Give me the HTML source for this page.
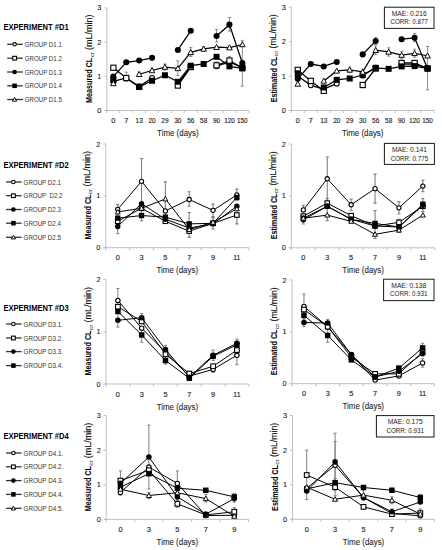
<!DOCTYPE html><html><head><meta charset="utf-8"><style>html,body{margin:0;padding:0;background:#fff;width:442px;height:550px;overflow:hidden}svg{display:block}text{font-family:"Liberation Sans",sans-serif}</style></head><body>
<svg width="442" height="550" viewBox="0 0 442 550">
<rect width="442" height="550" fill="#fff"/>
<text x="3.4" y="29.9" font-size="8.6" font-weight="bold" fill="#000" textLength="65.3" lengthAdjust="spacingAndGlyphs">EXPERIMENT #D1</text>
<path d="M7.2 44.3H22.8" stroke="#333" stroke-width="1.3"/>
<circle cx="14.6" cy="44.3" r="1.72" fill="#fff" stroke="#000" stroke-width="1.1"/>
<text x="24.8" y="46.8" font-size="7.3" fill="#333" textLength="37" lengthAdjust="spacingAndGlyphs" xml:space="preserve">GROUP D1.1</text>
<path d="M7.2 58.2H22.8" stroke="#333" stroke-width="1.3"/>
<rect x="12.73" y="56.33" width="3.74" height="3.74" fill="#fff" stroke="#000" stroke-width="1.1"/>
<text x="24.8" y="60.7" font-size="7.3" fill="#333" textLength="37" lengthAdjust="spacingAndGlyphs" xml:space="preserve">GROUP D1.2</text>
<path d="M7.2 72H22.8" stroke="#333" stroke-width="1.3"/>
<circle cx="14.6" cy="72" r="2.32" fill="#000"/>
<text x="24.8" y="74.5" font-size="7.3" fill="#333" textLength="37" lengthAdjust="spacingAndGlyphs" xml:space="preserve">GROUP D1.3</text>
<path d="M7.2 85.8H22.8" stroke="#333" stroke-width="1.3"/>
<rect x="12.33" y="83.53" width="4.54" height="4.54" fill="#000"/>
<text x="24.8" y="88.3" font-size="7.3" fill="#333" textLength="37" lengthAdjust="spacingAndGlyphs" xml:space="preserve">GROUP D1.4</text>
<path d="M7.2 99.5H22.8" stroke="#333" stroke-width="1.3"/>
<path d="M14.6 97.43L16.67 101.16L12.53 101.16Z" fill="#fff" stroke="#000" stroke-width="0.95"/>
<text x="24.8" y="102" font-size="7.3" fill="#333" textLength="37" lengthAdjust="spacingAndGlyphs" xml:space="preserve">GROUP D1.5</text>
<g stroke="#bfbfbf" stroke-width="1" fill="none">
<path d="M106.9 7.9V110.5"/>
<path d="M104.4 110.5H248.8"/>
<path d="M104.4 110.5H106.9"/>
<path d="M104.4 76.3H106.9"/>
<path d="M104.4 42.1H106.9"/>
<path d="M104.4 7.9H106.9"/>
<path d="M106.9 110.5V113"/>
<path d="M119.8 110.5V113"/>
<path d="M132.7 110.5V113"/>
<path d="M145.6 110.5V113"/>
<path d="M158.5 110.5V113"/>
<path d="M171.4 110.5V113"/>
<path d="M184.3 110.5V113"/>
<path d="M197.2 110.5V113"/>
<path d="M210.1 110.5V113"/>
<path d="M223 110.5V113"/>
<path d="M235.9 110.5V113"/>
<path d="M248.8 110.5V113"/>
</g>
<g font-size="7.3" fill="#262626" stroke="#262626" stroke-width="0.12" text-anchor="end">
<text x="101.4" y="113">0</text>
<text x="101.4" y="78.8">1</text>
<text x="101.4" y="44.6">2</text>
<text x="101.4" y="10.4">3</text>
</g>
<g font-size="7.3" fill="#262626" stroke="#262626" stroke-width="0.15" text-anchor="middle">
<text x="113.35" y="123">0</text>
<text x="126.25" y="123">7</text>
<text x="139.15" y="123" textLength="7.2" lengthAdjust="spacingAndGlyphs">13</text>
<text x="152.05" y="123" textLength="7.2" lengthAdjust="spacingAndGlyphs">20</text>
<text x="164.95" y="123" textLength="7.2" lengthAdjust="spacingAndGlyphs">29</text>
<text x="177.85" y="123" textLength="7.2" lengthAdjust="spacingAndGlyphs">30</text>
<text x="190.75" y="123" textLength="7.2" lengthAdjust="spacingAndGlyphs">56</text>
<text x="203.65" y="123" textLength="7.2" lengthAdjust="spacingAndGlyphs">58</text>
<text x="216.55" y="123" textLength="7.2" lengthAdjust="spacingAndGlyphs">90</text>
<text x="229.45" y="123" textLength="10.65" lengthAdjust="spacingAndGlyphs">120</text>
<text x="242.35" y="123" textLength="10.65" lengthAdjust="spacingAndGlyphs">150</text>
</g>
<text x="177.85" y="136" font-size="8.6" fill="#222" stroke="#222" stroke-width="0.08" text-anchor="middle" textLength="41.5" lengthAdjust="spacingAndGlyphs">Time (days)</text>
<text transform="translate(92.1 102.9) rotate(-90)" font-size="9.1" font-weight="bold" fill="#000" textLength="45" lengthAdjust="spacingAndGlyphs">Measured CL</text>
<text transform="translate(93.5 57.6) rotate(-90)" font-size="5.6" fill="#111" textLength="5.6" lengthAdjust="spacingAndGlyphs">cr</text>
<text transform="translate(91.5 49.9) rotate(-90)" font-size="8.8" fill="#111" stroke="#111" stroke-width="0.15" textLength="35.5" lengthAdjust="spacingAndGlyphs">(mL/min)</text>
<g stroke="#808080" stroke-width="0.9" fill="none">
<path d="M126.25 72.2V81.43M124.65 72.2H127.85M124.65 81.43H127.85"/>
<path d="M164.95 63.99V70.14M163.35 63.99H166.55M163.35 70.14H166.55"/>
<path d="M177.85 60.91V75.62M176.25 60.91H179.45M176.25 75.62H179.45"/>
<path d="M190.75 47.57V56.46M189.15 47.57H192.35M189.15 56.46H192.35"/>
<path d="M216.55 29.45V42.1M214.95 29.45H218.15M214.95 42.1H218.15"/>
<path d="M229.45 17.48V31.16M227.85 17.48H231.05M227.85 31.16H231.05"/>
<path d="M242.35 40.39V86.22M240.75 40.39H243.95M240.75 86.22H243.95"/>
<path d="M229.45 56.46V64.33M227.85 56.46H231.05M227.85 64.33H231.05"/>
<path d="M216.55 61.94V68.78M214.95 61.94H218.15M214.95 68.78H218.15"/>
<path d="M139.15 72.2V76.3M137.55 72.2H140.75M137.55 76.3H140.75"/>
<path d="M152.05 68.09V72.2M150.45 68.09H153.65M150.45 72.2H153.65"/>
<path d="M203.65 46.89V50.99M202.05 46.89H205.25M202.05 50.99H205.25"/>
</g>
<path d="M113.35 81.43L126.25 78.01L139.15 86.56L152.05 78.01" fill="none" stroke="#000000" stroke-width="1.25"/>
<path d="M177.85 83.82L190.75 66.72" fill="none" stroke="#000000" stroke-width="1.25"/>
<path d="M216.55 66.04L229.45 61.94L242.35 67.75" fill="none" stroke="#000000" stroke-width="1.25"/>
<circle cx="113.35" cy="81.43" r="2.45" fill="#fff" stroke="#000" stroke-width="1.1"/>
<circle cx="126.25" cy="78.01" r="2.45" fill="#fff" stroke="#000" stroke-width="1.1"/>
<circle cx="139.15" cy="86.56" r="2.45" fill="#fff" stroke="#000" stroke-width="1.1"/>
<circle cx="152.05" cy="78.01" r="2.45" fill="#fff" stroke="#000" stroke-width="1.1"/>
<circle cx="177.85" cy="83.82" r="2.45" fill="#fff" stroke="#000" stroke-width="1.1"/>
<circle cx="190.75" cy="66.72" r="2.45" fill="#fff" stroke="#000" stroke-width="1.1"/>
<circle cx="216.55" cy="66.04" r="2.45" fill="#fff" stroke="#000" stroke-width="1.1"/>
<circle cx="229.45" cy="61.94" r="2.45" fill="#fff" stroke="#000" stroke-width="1.1"/>
<circle cx="242.35" cy="67.75" r="2.45" fill="#fff" stroke="#000" stroke-width="1.1"/>
<path d="M113.35 67.75L126.25 78.01L139.15 86.9" fill="none" stroke="#000000" stroke-width="1.25"/>
<path d="M177.85 85.53L190.75 67.07" fill="none" stroke="#000000" stroke-width="1.25"/>
<path d="M216.55 65.36L229.45 60.57L242.35 67.75" fill="none" stroke="#000000" stroke-width="1.25"/>
<rect x="110.75" y="65.15" width="5.2" height="5.2" fill="#fff" stroke="#000" stroke-width="1.1"/>
<rect x="123.65" y="75.41" width="5.2" height="5.2" fill="#fff" stroke="#000" stroke-width="1.1"/>
<rect x="136.55" y="84.3" width="5.2" height="5.2" fill="#fff" stroke="#000" stroke-width="1.1"/>
<rect x="175.25" y="82.93" width="5.2" height="5.2" fill="#fff" stroke="#000" stroke-width="1.1"/>
<rect x="188.15" y="64.47" width="5.2" height="5.2" fill="#fff" stroke="#000" stroke-width="1.1"/>
<rect x="213.95" y="62.76" width="5.2" height="5.2" fill="#fff" stroke="#000" stroke-width="1.1"/>
<rect x="226.85" y="57.97" width="5.2" height="5.2" fill="#fff" stroke="#000" stroke-width="1.1"/>
<rect x="239.75" y="65.15" width="5.2" height="5.2" fill="#fff" stroke="#000" stroke-width="1.1"/>
<path d="M113.35 76.64L126.25 62.28L139.15 60.57L152.05 57.83" fill="none" stroke="#000000" stroke-width="1.25"/>
<path d="M177.85 49.97L190.75 30.81" fill="none" stroke="#000000" stroke-width="1.25"/>
<path d="M216.55 35.94L229.45 24.66L242.35 62.96" fill="none" stroke="#000000" stroke-width="1.25"/>
<circle cx="113.35" cy="76.64" r="3.05" fill="#000"/>
<circle cx="126.25" cy="62.28" r="3.05" fill="#000"/>
<circle cx="139.15" cy="60.57" r="3.05" fill="#000"/>
<circle cx="152.05" cy="57.83" r="3.05" fill="#000"/>
<circle cx="177.85" cy="49.97" r="3.05" fill="#000"/>
<circle cx="190.75" cy="30.81" r="3.05" fill="#000"/>
<circle cx="216.55" cy="35.94" r="3.05" fill="#000"/>
<circle cx="229.45" cy="24.66" r="3.05" fill="#000"/>
<circle cx="242.35" cy="62.96" r="3.05" fill="#000"/>
<path d="M139.15 86.9L152.05 80.75L164.95 75.27L177.85 81.77L190.75 65.7L203.65 63.99L216.55 56.81L229.45 66.38L242.35 68.43" fill="none" stroke="#000000" stroke-width="1.25"/>
<rect x="110.35" y="77.06" width="6" height="6" fill="#000"/>
<rect x="136.15" y="83.9" width="6" height="6" fill="#000"/>
<rect x="149.05" y="77.75" width="6" height="6" fill="#000"/>
<rect x="161.95" y="72.27" width="6" height="6" fill="#000"/>
<rect x="174.85" y="78.77" width="6" height="6" fill="#000"/>
<rect x="187.75" y="62.7" width="6" height="6" fill="#000"/>
<rect x="200.65" y="60.99" width="6" height="6" fill="#000"/>
<rect x="213.55" y="53.81" width="6" height="6" fill="#000"/>
<rect x="226.45" y="63.38" width="6" height="6" fill="#000"/>
<rect x="239.35" y="65.43" width="6" height="6" fill="#000"/>
<path d="M139.15 74.25L152.05 70.49L164.95 67.07L177.85 68.43L190.75 52.36L203.65 48.94L216.55 47.23L229.45 47.57L242.35 44.49" fill="none" stroke="#000000" stroke-width="1.25"/>
<path d="M113.35 80.68L116.15 85.72L110.55 85.72Z" fill="#fff" stroke="#000" stroke-width="0.95"/>
<path d="M139.15 71.45L141.95 76.49L136.35 76.49Z" fill="#fff" stroke="#000" stroke-width="0.95"/>
<path d="M152.05 67.69L154.85 72.73L149.25 72.73Z" fill="#fff" stroke="#000" stroke-width="0.95"/>
<path d="M164.95 64.27L167.75 69.31L162.15 69.31Z" fill="#fff" stroke="#000" stroke-width="0.95"/>
<path d="M177.85 65.63L180.65 70.67L175.05 70.67Z" fill="#fff" stroke="#000" stroke-width="0.95"/>
<path d="M190.75 49.56L193.55 54.6L187.95 54.6Z" fill="#fff" stroke="#000" stroke-width="0.95"/>
<path d="M203.65 46.14L206.45 51.18L200.85 51.18Z" fill="#fff" stroke="#000" stroke-width="0.95"/>
<path d="M216.55 44.43L219.35 49.47L213.75 49.47Z" fill="#fff" stroke="#000" stroke-width="0.95"/>
<path d="M229.45 44.77L232.25 49.81L226.65 49.81Z" fill="#fff" stroke="#000" stroke-width="0.95"/>
<path d="M242.35 41.69L245.15 46.73L239.55 46.73Z" fill="#fff" stroke="#000" stroke-width="0.95"/>
<g stroke="#bfbfbf" stroke-width="1" fill="none">
<path d="M291.3 7.21V110.5"/>
<path d="M288.8 110.5H434.08"/>
<path d="M288.8 110.5H291.3"/>
<path d="M288.8 76.07H291.3"/>
<path d="M288.8 41.64H291.3"/>
<path d="M288.8 7.21H291.3"/>
<path d="M291.3 110.5V113"/>
<path d="M304.28 110.5V113"/>
<path d="M317.26 110.5V113"/>
<path d="M330.24 110.5V113"/>
<path d="M343.22 110.5V113"/>
<path d="M356.2 110.5V113"/>
<path d="M369.18 110.5V113"/>
<path d="M382.16 110.5V113"/>
<path d="M395.14 110.5V113"/>
<path d="M408.12 110.5V113"/>
<path d="M421.1 110.5V113"/>
<path d="M434.08 110.5V113"/>
</g>
<g font-size="7.3" fill="#262626" stroke="#262626" stroke-width="0.12" text-anchor="end">
<text x="285.8" y="113">0</text>
<text x="285.8" y="78.57">1</text>
<text x="285.8" y="44.14">2</text>
<text x="285.8" y="9.71">3</text>
</g>
<g font-size="7.3" fill="#262626" stroke="#262626" stroke-width="0.15" text-anchor="middle">
<text x="297.79" y="123">0</text>
<text x="310.77" y="123">7</text>
<text x="323.75" y="123" textLength="7.2" lengthAdjust="spacingAndGlyphs">13</text>
<text x="336.73" y="123" textLength="7.2" lengthAdjust="spacingAndGlyphs">20</text>
<text x="349.71" y="123" textLength="7.2" lengthAdjust="spacingAndGlyphs">29</text>
<text x="362.69" y="123" textLength="7.2" lengthAdjust="spacingAndGlyphs">30</text>
<text x="375.67" y="123" textLength="7.2" lengthAdjust="spacingAndGlyphs">56</text>
<text x="388.65" y="123" textLength="7.2" lengthAdjust="spacingAndGlyphs">58</text>
<text x="401.63" y="123" textLength="7.2" lengthAdjust="spacingAndGlyphs">90</text>
<text x="414.61" y="123" textLength="10.65" lengthAdjust="spacingAndGlyphs">120</text>
<text x="427.59" y="123" textLength="10.65" lengthAdjust="spacingAndGlyphs">150</text>
</g>
<text x="362.69" y="136" font-size="8.6" fill="#222" stroke="#222" stroke-width="0.08" text-anchor="middle" textLength="41.5" lengthAdjust="spacingAndGlyphs">Time (days)</text>
<text transform="translate(276.5 102.31) rotate(-90)" font-size="9.1" font-weight="bold" fill="#000" textLength="45.8" lengthAdjust="spacingAndGlyphs">Estimated CL</text>
<text transform="translate(277.9 56.21) rotate(-90)" font-size="5.6" fill="#111" textLength="5.6" lengthAdjust="spacingAndGlyphs">cr</text>
<text transform="translate(275.9 48.51) rotate(-90)" font-size="8.8" fill="#111" stroke="#111" stroke-width="0.15" textLength="34.2" lengthAdjust="spacingAndGlyphs">(mL/min)</text>
<g stroke="#808080" stroke-width="0.9" fill="none">
<path d="M297.79 68.5V77.79M296.19 68.5H299.39M296.19 77.79H299.39"/>
<path d="M375.67 45.77V54.72M374.07 45.77H377.27M374.07 54.72H377.27"/>
<path d="M375.67 37.51V44.39M374.07 37.51H377.27M374.07 44.39H377.27"/>
<path d="M388.65 47.84V56.1M387.05 47.84H390.25M387.05 56.1H390.25"/>
<path d="M401.63 51.28V58.86M400.03 51.28H403.23M400.03 58.86H403.23"/>
<path d="M414.61 49.21V57.13M413.01 49.21H416.21M413.01 57.13H416.21"/>
<path d="M414.61 33.38V41.64M413.01 33.38H416.21M413.01 41.64H416.21"/>
<path d="M427.59 46.46V89.84M425.99 46.46H429.19M425.99 89.84H429.19"/>
<path d="M349.71 67.12V72.63M348.11 67.12H351.31M348.11 72.63H351.31"/>
<path d="M362.69 69.18V77.79M361.09 69.18H364.29M361.09 77.79H364.29"/>
</g>
<path d="M297.79 76.07L310.77 85.37L323.75 89.15L336.73 83.64" fill="none" stroke="#000000" stroke-width="1.25"/>
<path d="M362.69 75.38L375.67 67.81" fill="none" stroke="#000000" stroke-width="1.25"/>
<path d="M401.63 64.02L414.61 64.02L427.59 68.5" fill="none" stroke="#000000" stroke-width="1.25"/>
<circle cx="297.79" cy="76.07" r="2.45" fill="#fff" stroke="#000" stroke-width="1.1"/>
<circle cx="310.77" cy="85.37" r="2.45" fill="#fff" stroke="#000" stroke-width="1.1"/>
<circle cx="323.75" cy="89.15" r="2.45" fill="#fff" stroke="#000" stroke-width="1.1"/>
<circle cx="336.73" cy="83.64" r="2.45" fill="#fff" stroke="#000" stroke-width="1.1"/>
<circle cx="362.69" cy="75.38" r="2.45" fill="#fff" stroke="#000" stroke-width="1.1"/>
<circle cx="375.67" cy="67.81" r="2.45" fill="#fff" stroke="#000" stroke-width="1.1"/>
<circle cx="401.63" cy="64.02" r="2.45" fill="#fff" stroke="#000" stroke-width="1.1"/>
<circle cx="414.61" cy="64.02" r="2.45" fill="#fff" stroke="#000" stroke-width="1.1"/>
<circle cx="427.59" cy="68.5" r="2.45" fill="#fff" stroke="#000" stroke-width="1.1"/>
<path d="M297.79 69.87L310.77 80.89L323.75 90.87" fill="none" stroke="#000000" stroke-width="1.25"/>
<path d="M362.69 85.02L375.67 68.5" fill="none" stroke="#000000" stroke-width="1.25"/>
<path d="M401.63 62.99L414.61 62.99L427.59 68.5" fill="none" stroke="#000000" stroke-width="1.25"/>
<rect x="295.19" y="67.27" width="5.2" height="5.2" fill="#fff" stroke="#000" stroke-width="1.1"/>
<rect x="308.17" y="78.29" width="5.2" height="5.2" fill="#fff" stroke="#000" stroke-width="1.1"/>
<rect x="321.15" y="88.27" width="5.2" height="5.2" fill="#fff" stroke="#000" stroke-width="1.1"/>
<rect x="360.09" y="82.42" width="5.2" height="5.2" fill="#fff" stroke="#000" stroke-width="1.1"/>
<rect x="373.07" y="65.9" width="5.2" height="5.2" fill="#fff" stroke="#000" stroke-width="1.1"/>
<rect x="399.03" y="60.39" width="5.2" height="5.2" fill="#fff" stroke="#000" stroke-width="1.1"/>
<rect x="412.01" y="60.39" width="5.2" height="5.2" fill="#fff" stroke="#000" stroke-width="1.1"/>
<rect x="424.99" y="65.9" width="5.2" height="5.2" fill="#fff" stroke="#000" stroke-width="1.1"/>
<path d="M297.79 78.82L310.77 64.02L323.75 66.43L336.73 61.95" fill="none" stroke="#000000" stroke-width="1.25"/>
<path d="M362.69 54.38L375.67 40.95" fill="none" stroke="#000000" stroke-width="1.25"/>
<path d="M401.63 39.23L414.61 37.85L427.59 68.5" fill="none" stroke="#000000" stroke-width="1.25"/>
<circle cx="297.79" cy="78.82" r="3.05" fill="#000"/>
<circle cx="310.77" cy="64.02" r="3.05" fill="#000"/>
<circle cx="323.75" cy="66.43" r="3.05" fill="#000"/>
<circle cx="336.73" cy="61.95" r="3.05" fill="#000"/>
<circle cx="362.69" cy="54.38" r="3.05" fill="#000"/>
<circle cx="375.67" cy="40.95" r="3.05" fill="#000"/>
<circle cx="401.63" cy="39.23" r="3.05" fill="#000"/>
<circle cx="414.61" cy="37.85" r="3.05" fill="#000"/>
<circle cx="427.59" cy="68.5" r="3.05" fill="#000"/>
<path d="M323.75 87.43L336.73 79.86L349.71 78.48L362.69 75.04L375.67 67.81L388.65 68.84L401.63 66.43L414.61 66.09L427.59 68.5" fill="none" stroke="#000000" stroke-width="1.25"/>
<rect x="294.79" y="70.32" width="6" height="6" fill="#000"/>
<rect x="320.75" y="84.43" width="6" height="6" fill="#000"/>
<rect x="333.73" y="76.86" width="6" height="6" fill="#000"/>
<rect x="346.71" y="75.48" width="6" height="6" fill="#000"/>
<rect x="359.69" y="72.04" width="6" height="6" fill="#000"/>
<rect x="372.67" y="64.81" width="6" height="6" fill="#000"/>
<rect x="385.65" y="65.84" width="6" height="6" fill="#000"/>
<rect x="398.63" y="63.43" width="6" height="6" fill="#000"/>
<rect x="411.61" y="63.09" width="6" height="6" fill="#000"/>
<rect x="424.59" y="65.5" width="6" height="6" fill="#000"/>
<path d="M323.75 80.89L336.73 70.91L349.71 69.87L362.69 71.94L375.67 50.25L388.65 51.97L401.63 55.07L414.61 53.35L427.59 55.76" fill="none" stroke="#000000" stroke-width="1.25"/>
<path d="M297.79 81.19L300.59 86.23L294.99 86.23Z" fill="#fff" stroke="#000" stroke-width="0.95"/>
<path d="M323.75 78.09L326.55 83.13L320.95 83.13Z" fill="#fff" stroke="#000" stroke-width="0.95"/>
<path d="M336.73 68.11L339.53 73.15L333.93 73.15Z" fill="#fff" stroke="#000" stroke-width="0.95"/>
<path d="M349.71 67.07L352.51 72.11L346.91 72.11Z" fill="#fff" stroke="#000" stroke-width="0.95"/>
<path d="M362.69 69.14L365.49 74.18L359.89 74.18Z" fill="#fff" stroke="#000" stroke-width="0.95"/>
<path d="M375.67 47.45L378.47 52.49L372.87 52.49Z" fill="#fff" stroke="#000" stroke-width="0.95"/>
<path d="M388.65 49.17L391.45 54.21L385.85 54.21Z" fill="#fff" stroke="#000" stroke-width="0.95"/>
<path d="M401.63 52.27L404.43 57.31L398.83 57.31Z" fill="#fff" stroke="#000" stroke-width="0.95"/>
<path d="M414.61 50.55L417.41 55.59L411.81 55.59Z" fill="#fff" stroke="#000" stroke-width="0.95"/>
<path d="M427.59 52.96L430.39 58L424.79 58Z" fill="#fff" stroke="#000" stroke-width="0.95"/>
<rect x="384.4" y="7.2" width="49.6" height="21.2" fill="#fff" stroke="#1a1a1a" stroke-width="1"/>
<text x="409.2" y="15.9" font-size="7.6" fill="#1a1a1a" text-anchor="middle" textLength="35" lengthAdjust="spacingAndGlyphs">MAE: 0.216</text>
<text x="409.2" y="24.3" font-size="7.6" fill="#1a1a1a" text-anchor="middle" textLength="37.5" lengthAdjust="spacingAndGlyphs">CORR: 0.877</text>
<text x="3.4" y="167.9" font-size="8.6" font-weight="bold" fill="#000" textLength="65.3" lengthAdjust="spacingAndGlyphs">EXPERIMENT #D2</text>
<path d="M6 182H21.6" stroke="#333" stroke-width="1.3"/>
<circle cx="13.4" cy="182" r="1.72" fill="#fff" stroke="#000" stroke-width="1.1"/>
<text x="23.6" y="184.5" font-size="7.3" fill="#333" textLength="37.3" lengthAdjust="spacingAndGlyphs" xml:space="preserve">GROUP D2.1</text>
<path d="M6 195.7H21.6" stroke="#333" stroke-width="1.3"/>
<rect x="11.53" y="193.83" width="3.74" height="3.74" fill="#fff" stroke="#000" stroke-width="1.1"/>
<text x="23.6" y="198.2" font-size="7.3" fill="#333" textLength="38.9" lengthAdjust="spacingAndGlyphs" xml:space="preserve">GROUP  D2.2</text>
<path d="M6 209.5H21.6" stroke="#333" stroke-width="1.3"/>
<circle cx="13.4" cy="209.5" r="2.32" fill="#000"/>
<text x="23.6" y="212" font-size="7.3" fill="#333" textLength="37.3" lengthAdjust="spacingAndGlyphs" xml:space="preserve">GROUP D2.3</text>
<path d="M6 223.2H21.6" stroke="#333" stroke-width="1.3"/>
<rect x="11.13" y="220.93" width="4.54" height="4.54" fill="#000"/>
<text x="23.6" y="225.7" font-size="7.3" fill="#333" textLength="37.3" lengthAdjust="spacingAndGlyphs" xml:space="preserve">GROUP D2.4</text>
<path d="M6 237.3H21.6" stroke="#333" stroke-width="1.3"/>
<path d="M13.4 235.23L15.47 238.96L11.33 238.96Z" fill="#fff" stroke="#000" stroke-width="0.95"/>
<text x="23.6" y="239.8" font-size="7.3" fill="#333" textLength="37.3" lengthAdjust="spacingAndGlyphs" xml:space="preserve">GROUP D2.5</text>
<g stroke="#bfbfbf" stroke-width="1" fill="none">
<path d="M105.8 144V247.7"/>
<path d="M103.3 247.7H248.78"/>
<path d="M103.3 247.7H105.8"/>
<path d="M103.3 195.85H105.8"/>
<path d="M103.3 144H105.8"/>
<path d="M105.8 247.7V250.2"/>
<path d="M129.63 247.7V250.2"/>
<path d="M153.46 247.7V250.2"/>
<path d="M177.29 247.7V250.2"/>
<path d="M201.12 247.7V250.2"/>
<path d="M224.95 247.7V250.2"/>
<path d="M248.78 247.7V250.2"/>
</g>
<g font-size="7.3" fill="#262626" stroke="#262626" stroke-width="0.12" text-anchor="end">
<text x="100.3" y="250.2">0</text>
<text x="100.3" y="198.35">1</text>
<text x="100.3" y="146.5">2</text>
</g>
<g font-size="7.3" fill="#262626" stroke="#262626" stroke-width="0.15" text-anchor="middle">
<text x="117.72" y="260.2">0</text>
<text x="141.54" y="260.2">3</text>
<text x="165.38" y="260.2">5</text>
<text x="189.2" y="260.2">7</text>
<text x="213.03" y="260.2">9</text>
<text x="236.87" y="260.2" textLength="7.2" lengthAdjust="spacingAndGlyphs">11</text>
</g>
<text x="177.29" y="273.2" font-size="8.6" fill="#222" stroke="#222" stroke-width="0.08" text-anchor="middle" textLength="41.5" lengthAdjust="spacingAndGlyphs">Time (days)</text>
<text transform="translate(91 239.55) rotate(-90)" font-size="9.1" font-weight="bold" fill="#000" textLength="45" lengthAdjust="spacingAndGlyphs">Measured CL</text>
<text transform="translate(92.4 194.25) rotate(-90)" font-size="5.6" fill="#111" textLength="5.6" lengthAdjust="spacingAndGlyphs">cr</text>
<text transform="translate(90.4 186.55) rotate(-90)" font-size="8.8" fill="#111" stroke="#111" stroke-width="0.15" textLength="35.5" lengthAdjust="spacingAndGlyphs">(mL/min)</text>
<g stroke="#808080" stroke-width="1.1" fill="none">
<path d="M117.72 204.66V215.03M116.12 204.66H119.31M116.12 215.03H119.31"/>
<path d="M117.72 219.18V233.7M116.12 219.18H119.31M116.12 233.7H119.31"/>
<path d="M141.54 158.52V204.15M139.94 158.52H143.14M139.94 204.15H143.14"/>
<path d="M141.54 210.37V220.74M139.94 210.37H143.14M139.94 220.74H143.14"/>
<path d="M165.38 181.85V216.07M163.78 181.85H166.97M163.78 216.07H166.97"/>
<path d="M189.2 191.7V206.22M187.6 191.7H190.8M187.6 206.22H190.8"/>
<path d="M189.2 212.44V237.33M187.6 212.44H190.8M187.6 237.33H190.8"/>
<path d="M213.03 204.15V216.59M211.43 204.15H214.63M211.43 216.59H214.63"/>
<path d="M213.03 217.63V229.03M211.43 217.63H214.63M211.43 229.03H214.63"/>
<path d="M236.87 189.11V200.52M235.27 189.11H238.47M235.27 200.52H238.47"/>
<path d="M236.87 206.22V223.85M235.27 206.22H238.47M235.27 223.85H238.47"/>
</g>
<path d="M117.72 209.33L141.54 181.33L165.38 210.89L189.2 199.48L213.03 210.37L236.87 194.81" fill="none" stroke="#000000" stroke-width="1"/>
<circle cx="117.72" cy="209.33" r="2.11" fill="#fff" stroke="#000" stroke-width="1.1"/>
<circle cx="141.54" cy="181.33" r="2.11" fill="#fff" stroke="#000" stroke-width="1.1"/>
<circle cx="165.38" cy="210.89" r="2.11" fill="#fff" stroke="#000" stroke-width="1.1"/>
<circle cx="189.2" cy="199.48" r="2.11" fill="#fff" stroke="#000" stroke-width="1.1"/>
<circle cx="213.03" cy="210.37" r="2.11" fill="#fff" stroke="#000" stroke-width="1.1"/>
<circle cx="236.87" cy="194.81" r="2.11" fill="#fff" stroke="#000" stroke-width="1.1"/>
<path d="M117.72 221.26L141.54 208.29L165.38 221.26L189.2 231.11L213.03 223.33L236.87 215.03" fill="none" stroke="#000000" stroke-width="1"/>
<rect x="115.45" y="218.99" width="4.52" height="4.52" fill="#fff" stroke="#000" stroke-width="1.1"/>
<rect x="139.28" y="206.03" width="4.52" height="4.52" fill="#fff" stroke="#000" stroke-width="1.1"/>
<rect x="163.11" y="218.99" width="4.52" height="4.52" fill="#fff" stroke="#000" stroke-width="1.1"/>
<rect x="186.94" y="228.85" width="4.52" height="4.52" fill="#fff" stroke="#000" stroke-width="1.1"/>
<rect x="210.77" y="221.07" width="4.52" height="4.52" fill="#fff" stroke="#000" stroke-width="1.1"/>
<rect x="234.6" y="212.77" width="4.52" height="4.52" fill="#fff" stroke="#000" stroke-width="1.1"/>
<path d="M117.72 226.44L141.54 203.63L165.38 219.18L189.2 228L213.03 223.85L236.87 206.22" fill="none" stroke="#000000" stroke-width="1"/>
<circle cx="117.72" cy="226.44" r="2.71" fill="#000"/>
<circle cx="141.54" cy="203.63" r="2.71" fill="#000"/>
<circle cx="165.38" cy="219.18" r="2.71" fill="#000"/>
<circle cx="189.2" cy="228" r="2.71" fill="#000"/>
<circle cx="213.03" cy="223.85" r="2.71" fill="#000"/>
<circle cx="236.87" cy="206.22" r="2.71" fill="#000"/>
<path d="M117.72 218.15L141.54 215.55L165.38 217.11L189.2 223.85L213.03 223.33L236.87 197.41" fill="none" stroke="#000000" stroke-width="1"/>
<rect x="115.05" y="215.48" width="5.32" height="5.32" fill="#000"/>
<rect x="138.88" y="212.89" width="5.32" height="5.32" fill="#000"/>
<rect x="162.71" y="214.45" width="5.32" height="5.32" fill="#000"/>
<rect x="186.54" y="221.19" width="5.32" height="5.32" fill="#000"/>
<rect x="210.37" y="220.67" width="5.32" height="5.32" fill="#000"/>
<rect x="234.2" y="194.74" width="5.32" height="5.32" fill="#000"/>
<path d="M117.72 211.92L141.54 208.29L165.38 198.96L189.2 229.55L213.03 222.29L236.87 208.81" fill="none" stroke="#000000" stroke-width="1"/>
<path d="M117.72 209.46L120.18 213.89L115.25 213.89Z" fill="#fff" stroke="#000" stroke-width="0.95"/>
<path d="M141.54 205.83L144.01 210.26L139.08 210.26Z" fill="#fff" stroke="#000" stroke-width="0.95"/>
<path d="M165.38 196.5L167.84 200.93L162.91 200.93Z" fill="#fff" stroke="#000" stroke-width="0.95"/>
<path d="M189.2 227.09L191.67 231.52L186.74 231.52Z" fill="#fff" stroke="#000" stroke-width="0.95"/>
<path d="M213.03 219.83L215.5 224.26L210.57 224.26Z" fill="#fff" stroke="#000" stroke-width="0.95"/>
<path d="M236.87 206.35L239.33 210.78L234.4 210.78Z" fill="#fff" stroke="#000" stroke-width="0.95"/>
<g stroke="#bfbfbf" stroke-width="1" fill="none">
<path d="M291.4 144V247.8"/>
<path d="M288.9 247.8H434.8"/>
<path d="M288.9 247.8H291.4"/>
<path d="M288.9 195.9H291.4"/>
<path d="M288.9 144H291.4"/>
<path d="M291.4 247.8V250.3"/>
<path d="M315.3 247.8V250.3"/>
<path d="M339.2 247.8V250.3"/>
<path d="M363.1 247.8V250.3"/>
<path d="M387 247.8V250.3"/>
<path d="M410.9 247.8V250.3"/>
<path d="M434.8 247.8V250.3"/>
</g>
<g font-size="7.3" fill="#262626" stroke="#262626" stroke-width="0.12" text-anchor="end">
<text x="285.9" y="250.3">0</text>
<text x="285.9" y="198.4">1</text>
<text x="285.9" y="146.5">2</text>
</g>
<g font-size="7.3" fill="#262626" stroke="#262626" stroke-width="0.15" text-anchor="middle">
<text x="303.35" y="260.3">0</text>
<text x="327.25" y="260.3">3</text>
<text x="351.15" y="260.3">5</text>
<text x="375.05" y="260.3">7</text>
<text x="398.95" y="260.3">9</text>
<text x="422.85" y="260.3" textLength="7.2" lengthAdjust="spacingAndGlyphs">11</text>
</g>
<text x="363.1" y="273.3" font-size="8.6" fill="#222" stroke="#222" stroke-width="0.08" text-anchor="middle" textLength="41.5" lengthAdjust="spacingAndGlyphs">Time (days)</text>
<text transform="translate(276.6 239.35) rotate(-90)" font-size="9.1" font-weight="bold" fill="#000" textLength="45.8" lengthAdjust="spacingAndGlyphs">Estimated CL</text>
<text transform="translate(278 193.25) rotate(-90)" font-size="5.6" fill="#111" textLength="5.6" lengthAdjust="spacingAndGlyphs">cr</text>
<text transform="translate(276 185.55) rotate(-90)" font-size="8.8" fill="#111" stroke="#111" stroke-width="0.15" textLength="34.2" lengthAdjust="spacingAndGlyphs">(mL/min)</text>
<g stroke="#808080" stroke-width="1.1" fill="none">
<path d="M303.35 205.24V215.62M301.75 205.24H304.95M301.75 215.62H304.95"/>
<path d="M303.35 215.62V223.93M301.75 215.62H304.95M301.75 223.93H304.95"/>
<path d="M327.25 156.98V200.57M325.65 156.98H328.85M325.65 200.57H328.85"/>
<path d="M327.25 198.5V220.81M325.65 198.5H328.85M325.65 220.81H328.85"/>
<path d="M351.15 199.01V210.43M349.55 199.01H352.75M349.55 210.43H352.75"/>
<path d="M375.05 174.1V203.17M373.45 174.1H376.65M373.45 203.17H376.65"/>
<path d="M375.05 210.43V238.46M373.45 210.43H376.65M373.45 238.46H376.65"/>
<path d="M398.95 201.61V214.06M397.35 201.61H400.55M397.35 214.06H400.55"/>
<path d="M398.95 219.25V232.23M397.35 219.25H400.55M397.35 232.23H400.55"/>
<path d="M422.85 180.33V191.75M421.25 180.33H424.45M421.25 191.75H424.45"/>
<path d="M422.85 198.5V211.47M421.25 198.5H424.45M421.25 211.47H424.45"/>
</g>
<path d="M303.35 209.91L327.25 178.77L351.15 204.72L375.05 188.63L398.95 207.84L422.85 186.04" fill="none" stroke="#000000" stroke-width="1"/>
<circle cx="303.35" cy="209.91" r="2.11" fill="#fff" stroke="#000" stroke-width="1.1"/>
<circle cx="327.25" cy="178.77" r="2.11" fill="#fff" stroke="#000" stroke-width="1.1"/>
<circle cx="351.15" cy="204.72" r="2.11" fill="#fff" stroke="#000" stroke-width="1.1"/>
<circle cx="375.05" cy="188.63" r="2.11" fill="#fff" stroke="#000" stroke-width="1.1"/>
<circle cx="398.95" cy="207.84" r="2.11" fill="#fff" stroke="#000" stroke-width="1.1"/>
<circle cx="422.85" cy="186.04" r="2.11" fill="#fff" stroke="#000" stroke-width="1.1"/>
<path d="M303.35 216.14L327.25 203.17L351.15 215.62L375.05 226L398.95 222.37L422.85 206.28" fill="none" stroke="#000000" stroke-width="1"/>
<rect x="301.09" y="213.88" width="4.52" height="4.52" fill="#fff" stroke="#000" stroke-width="1.1"/>
<rect x="324.99" y="200.9" width="4.52" height="4.52" fill="#fff" stroke="#000" stroke-width="1.1"/>
<rect x="348.89" y="213.36" width="4.52" height="4.52" fill="#fff" stroke="#000" stroke-width="1.1"/>
<rect x="372.79" y="223.74" width="4.52" height="4.52" fill="#fff" stroke="#000" stroke-width="1.1"/>
<rect x="396.69" y="220.11" width="4.52" height="4.52" fill="#fff" stroke="#000" stroke-width="1.1"/>
<rect x="420.59" y="204.02" width="4.52" height="4.52" fill="#fff" stroke="#000" stroke-width="1.1"/>
<path d="M303.35 219.77L327.25 206.28L351.15 219.25L375.05 226L398.95 227.04L422.85 205.24" fill="none" stroke="#000000" stroke-width="1"/>
<circle cx="303.35" cy="219.77" r="2.71" fill="#000"/>
<circle cx="327.25" cy="206.28" r="2.71" fill="#000"/>
<circle cx="351.15" cy="219.25" r="2.71" fill="#000"/>
<circle cx="375.05" cy="226" r="2.71" fill="#000"/>
<circle cx="398.95" cy="227.04" r="2.71" fill="#000"/>
<circle cx="422.85" cy="205.24" r="2.71" fill="#000"/>
<path d="M303.35 218.22L327.25 206.28L351.15 219.25L375.05 223.41L398.95 227.04L422.85 204.2" fill="none" stroke="#000000" stroke-width="1"/>
<rect x="300.69" y="215.56" width="5.32" height="5.32" fill="#000"/>
<rect x="324.59" y="203.62" width="5.32" height="5.32" fill="#000"/>
<rect x="348.49" y="216.59" width="5.32" height="5.32" fill="#000"/>
<rect x="372.39" y="220.75" width="5.32" height="5.32" fill="#000"/>
<rect x="396.29" y="224.38" width="5.32" height="5.32" fill="#000"/>
<rect x="420.19" y="201.54" width="5.32" height="5.32" fill="#000"/>
<path d="M303.35 218.22L327.25 215.1L351.15 221.33L375.05 234.31L398.95 230.15L422.85 215.1" fill="none" stroke="#000000" stroke-width="1"/>
<path d="M303.35 215.76L305.81 220.19L300.89 220.19Z" fill="#fff" stroke="#000" stroke-width="0.95"/>
<path d="M327.25 212.64L329.71 217.07L324.79 217.07Z" fill="#fff" stroke="#000" stroke-width="0.95"/>
<path d="M351.15 218.87L353.61 223.3L348.69 223.3Z" fill="#fff" stroke="#000" stroke-width="0.95"/>
<path d="M375.05 231.84L377.51 236.28L372.59 236.28Z" fill="#fff" stroke="#000" stroke-width="0.95"/>
<path d="M398.95 227.69L401.41 232.12L396.49 232.12Z" fill="#fff" stroke="#000" stroke-width="0.95"/>
<path d="M422.85 212.64L425.31 217.07L420.39 217.07Z" fill="#fff" stroke="#000" stroke-width="0.95"/>
<rect x="384.4" y="143.4" width="50" height="21" fill="#fff" stroke="#1a1a1a" stroke-width="1"/>
<text x="409.4" y="152.1" font-size="7.6" fill="#1a1a1a" text-anchor="middle" textLength="35" lengthAdjust="spacingAndGlyphs">MAE: 0.141</text>
<text x="409.4" y="160.5" font-size="7.6" fill="#1a1a1a" text-anchor="middle" textLength="37.5" lengthAdjust="spacingAndGlyphs">CORR: 0.775</text>
<text x="3.4" y="310.8" font-size="8.6" font-weight="bold" fill="#000" textLength="65.3" lengthAdjust="spacingAndGlyphs">EXPERIMENT #D3</text>
<path d="M6 324H21.6" stroke="#333" stroke-width="1.3"/>
<circle cx="13.4" cy="324" r="1.72" fill="#fff" stroke="#000" stroke-width="1.1"/>
<text x="23.6" y="326.5" font-size="7.3" fill="#333" textLength="39.4" lengthAdjust="spacingAndGlyphs" xml:space="preserve">GROUP D3.1.</text>
<path d="M6 338H21.6" stroke="#333" stroke-width="1.3"/>
<rect x="11.53" y="336.13" width="3.74" height="3.74" fill="#fff" stroke="#000" stroke-width="1.1"/>
<text x="23.6" y="340.5" font-size="7.3" fill="#333" textLength="39.4" lengthAdjust="spacingAndGlyphs" xml:space="preserve">GROUP D3.2.</text>
<path d="M6 351.6H21.6" stroke="#333" stroke-width="1.3"/>
<circle cx="13.4" cy="351.6" r="2.32" fill="#000"/>
<text x="23.6" y="354.1" font-size="7.3" fill="#333" textLength="39.4" lengthAdjust="spacingAndGlyphs" xml:space="preserve">GROUP D3.3.</text>
<path d="M6 365.6H21.6" stroke="#333" stroke-width="1.3"/>
<rect x="11.13" y="363.33" width="4.54" height="4.54" fill="#000"/>
<text x="23.6" y="368.1" font-size="7.3" fill="#333" textLength="39.4" lengthAdjust="spacingAndGlyphs" xml:space="preserve">GROUP D3.4.</text>
<g stroke="#bfbfbf" stroke-width="1" fill="none">
<path d="M106 279.6V384"/>
<path d="M103.5 384H248.8"/>
<path d="M103.5 384H106"/>
<path d="M103.5 331.8H106"/>
<path d="M103.5 279.6H106"/>
<path d="M106 384V386.5"/>
<path d="M129.8 384V386.5"/>
<path d="M153.6 384V386.5"/>
<path d="M177.4 384V386.5"/>
<path d="M201.2 384V386.5"/>
<path d="M225 384V386.5"/>
<path d="M248.8 384V386.5"/>
</g>
<g font-size="7.3" fill="#262626" stroke="#262626" stroke-width="0.12" text-anchor="end">
<text x="100.5" y="386.5">0</text>
<text x="100.5" y="334.3">1</text>
<text x="100.5" y="282.1">2</text>
</g>
<g font-size="7.3" fill="#262626" stroke="#262626" stroke-width="0.15" text-anchor="middle">
<text x="117.9" y="396.5">0</text>
<text x="141.7" y="396.5">3</text>
<text x="165.5" y="396.5">5</text>
<text x="189.3" y="396.5">7</text>
<text x="213.1" y="396.5">9</text>
<text x="236.9" y="396.5" textLength="7.2" lengthAdjust="spacingAndGlyphs">11</text>
</g>
<text x="177.4" y="409.5" font-size="8.6" fill="#222" stroke="#222" stroke-width="0.08" text-anchor="middle" textLength="41.5" lengthAdjust="spacingAndGlyphs">Time (days)</text>
<text transform="translate(91.2 375.5) rotate(-90)" font-size="9.1" font-weight="bold" fill="#000" textLength="45" lengthAdjust="spacingAndGlyphs">Measured CL</text>
<text transform="translate(92.6 330.2) rotate(-90)" font-size="5.6" fill="#111" textLength="5.6" lengthAdjust="spacingAndGlyphs">cr</text>
<text transform="translate(90.6 322.5) rotate(-90)" font-size="8.8" fill="#111" stroke="#111" stroke-width="0.15" textLength="35.5" lengthAdjust="spacingAndGlyphs">(mL/min)</text>
<g stroke="#808080" stroke-width="1" fill="none">
<path d="M117.9 288.47V312.49M116.3 288.47H119.5M116.3 312.49H119.5"/>
<path d="M117.9 313.53V327.1M116.3 313.53H119.5M116.3 327.1H119.5"/>
<path d="M141.7 313.53V321.36M140.1 313.53H143.3M140.1 321.36H143.3"/>
<path d="M141.7 327.62V342.24M140.1 327.62H143.3M140.1 342.24H143.3"/>
<path d="M165.5 345.37V353.72M163.9 345.37H167.1M163.9 353.72H167.1"/>
<path d="M165.5 356.86V364.16M163.9 356.86H167.1M163.9 364.16H167.1"/>
<path d="M189.3 371.47V379.82M187.7 371.47H190.9M187.7 379.82H190.9"/>
<path d="M213.1 350.07V360.51M211.5 350.07H214.7M211.5 360.51H214.7"/>
<path d="M213.1 366.25V372.52M211.5 366.25H214.7M211.5 372.52H214.7"/>
<path d="M236.9 345.89V364.69M235.3 345.89H238.5M235.3 364.69H238.5"/>
<path d="M236.9 339.11V347.46M235.3 339.11H238.5M235.3 347.46H238.5"/>
</g>
<path d="M117.9 300.48L141.7 328.15L165.5 352.16L189.3 376.17L213.1 369.38L236.9 355.29" fill="none" stroke="#000000" stroke-width="1"/>
<circle cx="117.9" cy="300.48" r="2.19" fill="#fff" stroke="#000" stroke-width="1.1"/>
<circle cx="141.7" cy="328.15" r="2.19" fill="#fff" stroke="#000" stroke-width="1.1"/>
<circle cx="165.5" cy="352.16" r="2.19" fill="#fff" stroke="#000" stroke-width="1.1"/>
<circle cx="189.3" cy="376.17" r="2.19" fill="#fff" stroke="#000" stroke-width="1.1"/>
<circle cx="213.1" cy="369.38" r="2.19" fill="#fff" stroke="#000" stroke-width="1.1"/>
<circle cx="236.9" cy="355.29" r="2.19" fill="#fff" stroke="#000" stroke-width="1.1"/>
<path d="M117.9 306.74L141.7 321.36L165.5 354.25L189.3 373.56L213.1 366.25L236.9 350.07" fill="none" stroke="#000000" stroke-width="1"/>
<rect x="115.56" y="304.4" width="4.68" height="4.68" fill="#fff" stroke="#000" stroke-width="1.1"/>
<rect x="139.36" y="319.02" width="4.68" height="4.68" fill="#fff" stroke="#000" stroke-width="1.1"/>
<rect x="163.16" y="351.91" width="4.68" height="4.68" fill="#fff" stroke="#000" stroke-width="1.1"/>
<rect x="186.96" y="371.22" width="4.68" height="4.68" fill="#fff" stroke="#000" stroke-width="1.1"/>
<rect x="210.76" y="363.91" width="4.68" height="4.68" fill="#fff" stroke="#000" stroke-width="1.1"/>
<rect x="234.56" y="347.73" width="4.68" height="4.68" fill="#fff" stroke="#000" stroke-width="1.1"/>
<path d="M117.9 320.32L141.7 317.71L165.5 349.55L189.3 377.21L213.1 355.29L236.9 343.28" fill="none" stroke="#000000" stroke-width="1"/>
<circle cx="117.9" cy="320.32" r="2.79" fill="#000"/>
<circle cx="141.7" cy="317.71" r="2.79" fill="#000"/>
<circle cx="165.5" cy="349.55" r="2.79" fill="#000"/>
<circle cx="189.3" cy="377.21" r="2.79" fill="#000"/>
<circle cx="213.1" cy="355.29" r="2.79" fill="#000"/>
<circle cx="236.9" cy="343.28" r="2.79" fill="#000"/>
<path d="M117.9 311.44L141.7 334.93L165.5 360.51L189.3 378.26L213.1 356.33L236.9 344.85" fill="none" stroke="#000000" stroke-width="1"/>
<rect x="115.16" y="308.7" width="5.48" height="5.48" fill="#000"/>
<rect x="138.96" y="332.19" width="5.48" height="5.48" fill="#000"/>
<rect x="162.76" y="357.77" width="5.48" height="5.48" fill="#000"/>
<rect x="186.56" y="375.52" width="5.48" height="5.48" fill="#000"/>
<rect x="210.36" y="353.59" width="5.48" height="5.48" fill="#000"/>
<rect x="234.16" y="342.11" width="5.48" height="5.48" fill="#000"/>
<g stroke="#bfbfbf" stroke-width="1" fill="none">
<path d="M292.1 280V383.7"/>
<path d="M289.6 383.7H434.42"/>
<path d="M289.6 383.7H292.1"/>
<path d="M289.6 331.85H292.1"/>
<path d="M289.6 280H292.1"/>
<path d="M292.1 383.7V386.2"/>
<path d="M315.82 383.7V386.2"/>
<path d="M339.54 383.7V386.2"/>
<path d="M363.26 383.7V386.2"/>
<path d="M386.98 383.7V386.2"/>
<path d="M410.7 383.7V386.2"/>
<path d="M434.42 383.7V386.2"/>
</g>
<g font-size="7.3" fill="#262626" stroke="#262626" stroke-width="0.12" text-anchor="end">
<text x="286.6" y="386.2">0</text>
<text x="286.6" y="334.35">1</text>
<text x="286.6" y="282.5">2</text>
</g>
<g font-size="7.3" fill="#262626" stroke="#262626" stroke-width="0.15" text-anchor="middle">
<text x="303.96" y="396.2">0</text>
<text x="327.68" y="396.2">3</text>
<text x="351.4" y="396.2">5</text>
<text x="375.12" y="396.2">7</text>
<text x="398.84" y="396.2">9</text>
<text x="422.56" y="396.2" textLength="7.2" lengthAdjust="spacingAndGlyphs">11</text>
</g>
<text x="363.26" y="409.2" font-size="8.6" fill="#222" stroke="#222" stroke-width="0.08" text-anchor="middle" textLength="41.5" lengthAdjust="spacingAndGlyphs">Time (days)</text>
<text transform="translate(277.3 375.3) rotate(-90)" font-size="9.1" font-weight="bold" fill="#000" textLength="45.8" lengthAdjust="spacingAndGlyphs">Estimated CL</text>
<text transform="translate(278.7 329.2) rotate(-90)" font-size="5.6" fill="#111" textLength="5.6" lengthAdjust="spacingAndGlyphs">cr</text>
<text transform="translate(276.7 321.5) rotate(-90)" font-size="8.8" fill="#111" stroke="#111" stroke-width="0.15" textLength="34.2" lengthAdjust="spacingAndGlyphs">(mL/min)</text>
<g stroke="#808080" stroke-width="1" fill="none">
<path d="M303.96 294V318.89M302.36 294H305.56M302.36 318.89H305.56"/>
<path d="M303.96 318.89V326.66M302.36 318.89H305.56M302.36 326.66H305.56"/>
<path d="M327.68 319.41V329.26M326.08 319.41H329.28M326.08 329.26H329.28"/>
<path d="M327.68 328.74V342.22M326.08 328.74H329.28M326.08 342.22H329.28"/>
<path d="M351.4 352.59V357.77M349.8 352.59H353M349.8 357.77H353"/>
<path d="M375.12 372.29V381.11M373.52 372.29H376.72M373.52 381.11H376.72"/>
<path d="M398.84 366.07V370.22M397.24 366.07H400.44M397.24 370.22H400.44"/>
<path d="M422.56 358.81V367.11M420.96 358.81H424.16M420.96 367.11H424.16"/>
<path d="M422.56 343.26V351.55M420.96 343.26H424.16M420.96 351.55H424.16"/>
</g>
<path d="M303.96 306.44L327.68 326.66L351.4 354.66L375.12 380.07L398.84 375.92L422.56 362.96" fill="none" stroke="#000000" stroke-width="1"/>
<circle cx="303.96" cy="306.44" r="2.19" fill="#fff" stroke="#000" stroke-width="1.1"/>
<circle cx="327.68" cy="326.66" r="2.19" fill="#fff" stroke="#000" stroke-width="1.1"/>
<circle cx="351.4" cy="354.66" r="2.19" fill="#fff" stroke="#000" stroke-width="1.1"/>
<circle cx="375.12" cy="380.07" r="2.19" fill="#fff" stroke="#000" stroke-width="1.1"/>
<circle cx="398.84" cy="375.92" r="2.19" fill="#fff" stroke="#000" stroke-width="1.1"/>
<circle cx="422.56" cy="362.96" r="2.19" fill="#fff" stroke="#000" stroke-width="1.1"/>
<path d="M303.96 309.55L327.68 326.66L351.4 357.26L375.12 373.85L398.84 373.85L422.56 352.07" fill="none" stroke="#000000" stroke-width="1"/>
<rect x="301.62" y="307.21" width="4.68" height="4.68" fill="#fff" stroke="#000" stroke-width="1.1"/>
<rect x="325.34" y="324.32" width="4.68" height="4.68" fill="#fff" stroke="#000" stroke-width="1.1"/>
<rect x="349.06" y="354.92" width="4.68" height="4.68" fill="#fff" stroke="#000" stroke-width="1.1"/>
<rect x="372.78" y="371.51" width="4.68" height="4.68" fill="#fff" stroke="#000" stroke-width="1.1"/>
<rect x="396.5" y="371.51" width="4.68" height="4.68" fill="#fff" stroke="#000" stroke-width="1.1"/>
<rect x="420.22" y="349.73" width="4.68" height="4.68" fill="#fff" stroke="#000" stroke-width="1.1"/>
<path d="M303.96 322.52L327.68 323.04L351.4 354.66L375.12 376.96L398.84 371.26L422.56 353.63" fill="none" stroke="#000000" stroke-width="1"/>
<circle cx="303.96" cy="322.52" r="2.79" fill="#000"/>
<circle cx="327.68" cy="323.04" r="2.79" fill="#000"/>
<circle cx="351.4" cy="354.66" r="2.79" fill="#000"/>
<circle cx="375.12" cy="376.96" r="2.79" fill="#000"/>
<circle cx="398.84" cy="371.26" r="2.79" fill="#000"/>
<circle cx="422.56" cy="353.63" r="2.79" fill="#000"/>
<path d="M303.96 315.26L327.68 335.48L351.4 359.85L375.12 376.96L398.84 368.14L422.56 347.92" fill="none" stroke="#000000" stroke-width="1"/>
<rect x="301.22" y="312.52" width="5.48" height="5.48" fill="#000"/>
<rect x="324.94" y="332.74" width="5.48" height="5.48" fill="#000"/>
<rect x="348.66" y="357.11" width="5.48" height="5.48" fill="#000"/>
<rect x="372.38" y="374.22" width="5.48" height="5.48" fill="#000"/>
<rect x="396.1" y="365.4" width="5.48" height="5.48" fill="#000"/>
<rect x="419.82" y="345.18" width="5.48" height="5.48" fill="#000"/>
<rect x="383.6" y="279.2" width="50.4" height="21.4" fill="#fff" stroke="#1a1a1a" stroke-width="1"/>
<text x="408.8" y="287.9" font-size="7.6" fill="#1a1a1a" text-anchor="middle" textLength="35" lengthAdjust="spacingAndGlyphs">MAE: 0.138</text>
<text x="408.8" y="296.3" font-size="7.6" fill="#1a1a1a" text-anchor="middle" textLength="37.5" lengthAdjust="spacingAndGlyphs">CORR: 0.931</text>
<text x="3.4" y="438.8" font-size="8.6" font-weight="bold" fill="#000" textLength="65.3" lengthAdjust="spacingAndGlyphs">EXPERIMENT #D4</text>
<path d="M6 453H21.6" stroke="#333" stroke-width="1.3"/>
<circle cx="13.4" cy="453" r="1.72" fill="#fff" stroke="#000" stroke-width="1.1"/>
<text x="23.6" y="455.5" font-size="7.3" fill="#333" textLength="39.5" lengthAdjust="spacingAndGlyphs" xml:space="preserve">GROUP D4.1.</text>
<path d="M6 466.8H21.6" stroke="#333" stroke-width="1.3"/>
<rect x="11.53" y="464.93" width="3.74" height="3.74" fill="#fff" stroke="#000" stroke-width="1.1"/>
<text x="23.6" y="469.3" font-size="7.3" fill="#333" textLength="39.5" lengthAdjust="spacingAndGlyphs" xml:space="preserve">GROUP D4.2.</text>
<path d="M6 480.6H21.6" stroke="#333" stroke-width="1.3"/>
<circle cx="13.4" cy="480.6" r="2.32" fill="#000"/>
<text x="23.6" y="483.1" font-size="7.3" fill="#333" textLength="39.5" lengthAdjust="spacingAndGlyphs" xml:space="preserve">GROUP D4.3.</text>
<path d="M6 494.4H21.6" stroke="#333" stroke-width="1.3"/>
<rect x="11.13" y="492.13" width="4.54" height="4.54" fill="#000"/>
<text x="23.6" y="496.9" font-size="7.3" fill="#333" textLength="39.5" lengthAdjust="spacingAndGlyphs" xml:space="preserve">GROUP D4.4.</text>
<path d="M6 508.3H21.6" stroke="#333" stroke-width="1.3"/>
<path d="M13.4 506.23L15.47 509.96L11.33 509.96Z" fill="#fff" stroke="#000" stroke-width="0.95"/>
<text x="23.6" y="510.8" font-size="7.3" fill="#333" textLength="39.5" lengthAdjust="spacingAndGlyphs" xml:space="preserve">GROUP D4.5.</text>
<g stroke="#bfbfbf" stroke-width="1" fill="none">
<path d="M106.2 415.51V519.4"/>
<path d="M103.7 519.4H248.5"/>
<path d="M103.7 519.4H106.2"/>
<path d="M103.7 484.77H106.2"/>
<path d="M103.7 450.14H106.2"/>
<path d="M103.7 415.51H106.2"/>
<path d="M106.2 519.4V521.9"/>
<path d="M134.66 519.4V521.9"/>
<path d="M163.12 519.4V521.9"/>
<path d="M191.58 519.4V521.9"/>
<path d="M220.04 519.4V521.9"/>
<path d="M248.5 519.4V521.9"/>
</g>
<g font-size="7.3" fill="#262626" stroke="#262626" stroke-width="0.12" text-anchor="end">
<text x="100.7" y="521.9">0</text>
<text x="100.7" y="487.27">1</text>
<text x="100.7" y="452.64">2</text>
<text x="100.7" y="418.01">3</text>
</g>
<g font-size="7.3" fill="#262626" stroke="#262626" stroke-width="0.15" text-anchor="middle">
<text x="120.43" y="531.9">0</text>
<text x="148.89" y="531.9">3</text>
<text x="177.35" y="531.9">5</text>
<text x="205.81" y="531.9">7</text>
<text x="234.27" y="531.9">9</text>
</g>
<text x="177.35" y="544.9" font-size="8.6" fill="#222" stroke="#222" stroke-width="0.08" text-anchor="middle" textLength="41.5" lengthAdjust="spacingAndGlyphs">Time (days)</text>
<text transform="translate(91.4 511.15) rotate(-90)" font-size="9.1" font-weight="bold" fill="#000" textLength="45" lengthAdjust="spacingAndGlyphs">Measured CL</text>
<text transform="translate(92.8 465.85) rotate(-90)" font-size="5.6" fill="#111" textLength="5.6" lengthAdjust="spacingAndGlyphs">cr</text>
<text transform="translate(90.8 458.15) rotate(-90)" font-size="8.8" fill="#111" stroke="#111" stroke-width="0.15" textLength="35.5" lengthAdjust="spacingAndGlyphs">(mL/min)</text>
<g stroke="#808080" stroke-width="1" fill="none">
<path d="M120.43 470.92V495.16M118.83 470.92H122.03M118.83 495.16H122.03"/>
<path d="M148.89 425.21V488.93M147.29 425.21H150.49M147.29 488.93H150.49"/>
<path d="M148.89 492.39V498.62M147.29 492.39H150.49M147.29 498.62H150.49"/>
<path d="M177.35 470.92V495.85M175.75 470.92H178.95M175.75 495.85H178.95"/>
<path d="M177.35 500.35V507.28M175.75 500.35H178.95M175.75 507.28H178.95"/>
<path d="M205.81 494.47V502.08M204.21 494.47H207.41M204.21 502.08H207.41"/>
<path d="M205.81 511.78V517.67M204.21 511.78H207.41M204.21 517.67H207.41"/>
<path d="M234.27 507.63V515.24M232.67 507.63H235.87M232.67 515.24H235.87"/>
<path d="M234.27 493.43V502.08M232.67 493.43H235.87M232.67 502.08H235.87"/>
</g>
<path d="M120.43 492.39L148.89 467.11L177.35 483.38L205.81 515.59L234.27 515.24" fill="none" stroke="#000000" stroke-width="1"/>
<circle cx="120.43" cy="492.39" r="2.19" fill="#fff" stroke="#000" stroke-width="1.1"/>
<circle cx="148.89" cy="467.11" r="2.19" fill="#fff" stroke="#000" stroke-width="1.1"/>
<circle cx="177.35" cy="483.38" r="2.19" fill="#fff" stroke="#000" stroke-width="1.1"/>
<circle cx="205.81" cy="515.59" r="2.19" fill="#fff" stroke="#000" stroke-width="1.1"/>
<circle cx="234.27" cy="515.24" r="2.19" fill="#fff" stroke="#000" stroke-width="1.1"/>
<path d="M120.43 480.61L148.89 470.23L177.35 503.82L205.81 514.9L234.27 511.78" fill="none" stroke="#000000" stroke-width="1"/>
<rect x="118.09" y="478.27" width="4.68" height="4.68" fill="#fff" stroke="#000" stroke-width="1.1"/>
<rect x="146.55" y="467.89" width="4.68" height="4.68" fill="#fff" stroke="#000" stroke-width="1.1"/>
<rect x="175.01" y="501.48" width="4.68" height="4.68" fill="#fff" stroke="#000" stroke-width="1.1"/>
<rect x="203.47" y="512.56" width="4.68" height="4.68" fill="#fff" stroke="#000" stroke-width="1.1"/>
<rect x="231.93" y="509.44" width="4.68" height="4.68" fill="#fff" stroke="#000" stroke-width="1.1"/>
<path d="M120.43 483.38L148.89 457.07L177.35 496.89L205.81 514.21L234.27 498.62" fill="none" stroke="#000000" stroke-width="1"/>
<circle cx="120.43" cy="483.38" r="2.79" fill="#000"/>
<circle cx="148.89" cy="457.07" r="2.79" fill="#000"/>
<circle cx="177.35" cy="496.89" r="2.79" fill="#000"/>
<circle cx="205.81" cy="514.21" r="2.79" fill="#000"/>
<circle cx="234.27" cy="498.62" r="2.79" fill="#000"/>
<path d="M120.43 487.19L148.89 473.69L177.35 488.23L205.81 490.31L234.27 496.89" fill="none" stroke="#000000" stroke-width="1"/>
<rect x="117.69" y="484.45" width="5.48" height="5.48" fill="#000"/>
<rect x="146.15" y="470.95" width="5.48" height="5.48" fill="#000"/>
<rect x="174.61" y="485.49" width="5.48" height="5.48" fill="#000"/>
<rect x="203.07" y="487.57" width="5.48" height="5.48" fill="#000"/>
<rect x="231.53" y="494.15" width="5.48" height="5.48" fill="#000"/>
<path d="M120.43 489.27L148.89 495.51L177.35 492.73L205.81 498.62L234.27 516.28" fill="none" stroke="#000000" stroke-width="1"/>
<path d="M120.43 486.73L122.97 491.3L117.89 491.3Z" fill="#fff" stroke="#000" stroke-width="0.95"/>
<path d="M148.89 492.97L151.43 497.54L146.35 497.54Z" fill="#fff" stroke="#000" stroke-width="0.95"/>
<path d="M177.35 490.19L179.89 494.77L174.81 494.77Z" fill="#fff" stroke="#000" stroke-width="0.95"/>
<path d="M205.81 496.08L208.35 500.65L203.27 500.65Z" fill="#fff" stroke="#000" stroke-width="0.95"/>
<path d="M234.27 513.74L236.81 518.32L231.73 518.32Z" fill="#fff" stroke="#000" stroke-width="0.95"/>
<g stroke="#bfbfbf" stroke-width="1" fill="none">
<path d="M292.5 415.59V519.3"/>
<path d="M290 519.3H434.5"/>
<path d="M290 519.3H292.5"/>
<path d="M290 484.73H292.5"/>
<path d="M290 450.16H292.5"/>
<path d="M290 415.59H292.5"/>
<path d="M292.5 519.3V521.8"/>
<path d="M320.9 519.3V521.8"/>
<path d="M349.3 519.3V521.8"/>
<path d="M377.7 519.3V521.8"/>
<path d="M406.1 519.3V521.8"/>
<path d="M434.5 519.3V521.8"/>
</g>
<g font-size="7.3" fill="#262626" stroke="#262626" stroke-width="0.12" text-anchor="end">
<text x="287" y="521.8">0</text>
<text x="287" y="487.23">1</text>
<text x="287" y="452.66">2</text>
<text x="287" y="418.09">3</text>
</g>
<g font-size="7.3" fill="#262626" stroke="#262626" stroke-width="0.15" text-anchor="middle">
<text x="306.7" y="531.8">0</text>
<text x="335.1" y="531.8">3</text>
<text x="363.5" y="531.8">5</text>
<text x="391.9" y="531.8">7</text>
<text x="420.3" y="531.8">9</text>
</g>
<text x="363.5" y="544.8" font-size="8.6" fill="#222" stroke="#222" stroke-width="0.08" text-anchor="middle" textLength="41.5" lengthAdjust="spacingAndGlyphs">Time (days)</text>
<text transform="translate(277.7 510.89) rotate(-90)" font-size="9.1" font-weight="bold" fill="#000" textLength="45.8" lengthAdjust="spacingAndGlyphs">Estimated CL</text>
<text transform="translate(279.1 464.79) rotate(-90)" font-size="5.6" fill="#111" textLength="5.6" lengthAdjust="spacingAndGlyphs">cr</text>
<text transform="translate(277.1 457.09) rotate(-90)" font-size="8.8" fill="#111" stroke="#111" stroke-width="0.15" textLength="34.2" lengthAdjust="spacingAndGlyphs">(mL/min)</text>
<g stroke="#808080" stroke-width="1" fill="none">
<path d="M306.7 450.16V499.6M305.1 450.16H308.3M305.1 499.6H308.3"/>
<path d="M335.1 433.22V490.61M333.5 433.22H336.7M333.5 490.61H336.7"/>
<path d="M335.1 441.52V489.22M333.5 441.52H336.7M333.5 489.22H336.7"/>
<path d="M335.1 478.51V495.79M333.5 478.51H336.7M333.5 495.79H336.7"/>
<path d="M363.5 489.92V500.29M361.9 489.92H365.1M361.9 500.29H365.1"/>
<path d="M391.9 496.83V503.74M390.3 496.83H393.5M390.3 503.74H393.5"/>
<path d="M391.9 508.93V515.84M390.3 508.93H393.5M390.3 515.84H393.5"/>
<path d="M420.3 508.93V517.57M418.7 508.93H421.9M418.7 517.57H421.9"/>
<path d="M420.3 494.41V500.29M418.7 494.41H421.9M418.7 500.29H421.9"/>
</g>
<path d="M306.7 488.19L335.1 465.37L363.5 497.52L391.9 513.42L420.3 515.84" fill="none" stroke="#000000" stroke-width="1"/>
<circle cx="306.7" cy="488.19" r="2.19" fill="#fff" stroke="#000" stroke-width="1.1"/>
<circle cx="335.1" cy="465.37" r="2.19" fill="#fff" stroke="#000" stroke-width="1.1"/>
<circle cx="363.5" cy="497.52" r="2.19" fill="#fff" stroke="#000" stroke-width="1.1"/>
<circle cx="391.9" cy="513.42" r="2.19" fill="#fff" stroke="#000" stroke-width="1.1"/>
<circle cx="420.3" cy="515.84" r="2.19" fill="#fff" stroke="#000" stroke-width="1.1"/>
<path d="M306.7 475.05L335.1 487.15L363.5 506.85L391.9 514.11L420.3 513.08" fill="none" stroke="#000000" stroke-width="1"/>
<rect x="304.36" y="472.71" width="4.68" height="4.68" fill="#fff" stroke="#000" stroke-width="1.1"/>
<rect x="332.76" y="484.81" width="4.68" height="4.68" fill="#fff" stroke="#000" stroke-width="1.1"/>
<rect x="361.16" y="504.51" width="4.68" height="4.68" fill="#fff" stroke="#000" stroke-width="1.1"/>
<rect x="389.56" y="511.77" width="4.68" height="4.68" fill="#fff" stroke="#000" stroke-width="1.1"/>
<rect x="417.96" y="510.74" width="4.68" height="4.68" fill="#fff" stroke="#000" stroke-width="1.1"/>
<path d="M306.7 490.95L335.1 461.91L363.5 497.52L391.9 511.69L420.3 502.01" fill="none" stroke="#000000" stroke-width="1"/>
<circle cx="306.7" cy="490.95" r="2.79" fill="#000"/>
<circle cx="335.1" cy="461.91" r="2.79" fill="#000"/>
<circle cx="363.5" cy="497.52" r="2.79" fill="#000"/>
<circle cx="391.9" cy="511.69" r="2.79" fill="#000"/>
<circle cx="420.3" cy="502.01" r="2.79" fill="#000"/>
<path d="M306.7 488.88L335.1 482.66L363.5 487.5L391.9 490.26L420.3 497.52" fill="none" stroke="#000000" stroke-width="1"/>
<rect x="303.96" y="486.14" width="5.48" height="5.48" fill="#000"/>
<rect x="332.36" y="479.92" width="5.48" height="5.48" fill="#000"/>
<rect x="360.76" y="484.76" width="5.48" height="5.48" fill="#000"/>
<rect x="389.16" y="487.52" width="5.48" height="5.48" fill="#000"/>
<rect x="417.56" y="494.78" width="5.48" height="5.48" fill="#000"/>
<path d="M306.7 487.15L335.1 499.25L363.5 495.1L391.9 500.29L420.3 514.11" fill="none" stroke="#000000" stroke-width="1"/>
<path d="M306.7 484.61L309.24 489.18L304.16 489.18Z" fill="#fff" stroke="#000" stroke-width="0.95"/>
<path d="M335.1 496.71L337.64 501.28L332.56 501.28Z" fill="#fff" stroke="#000" stroke-width="0.95"/>
<path d="M363.5 492.56L366.04 497.13L360.96 497.13Z" fill="#fff" stroke="#000" stroke-width="0.95"/>
<path d="M391.9 497.75L394.44 502.32L389.36 502.32Z" fill="#fff" stroke="#000" stroke-width="0.95"/>
<path d="M420.3 511.57L422.84 516.15L417.76 516.15Z" fill="#fff" stroke="#000" stroke-width="0.95"/>
<rect x="376.4" y="415.6" width="57.6" height="21.4" fill="#fff" stroke="#1a1a1a" stroke-width="1"/>
<text x="405.2" y="424.3" font-size="7.6" fill="#1a1a1a" text-anchor="middle" textLength="35" lengthAdjust="spacingAndGlyphs">MAE: 0.175</text>
<text x="405.2" y="432.7" font-size="7.6" fill="#1a1a1a" text-anchor="middle" textLength="37.5" lengthAdjust="spacingAndGlyphs">CORR: 0.931</text>
</svg></body></html>
